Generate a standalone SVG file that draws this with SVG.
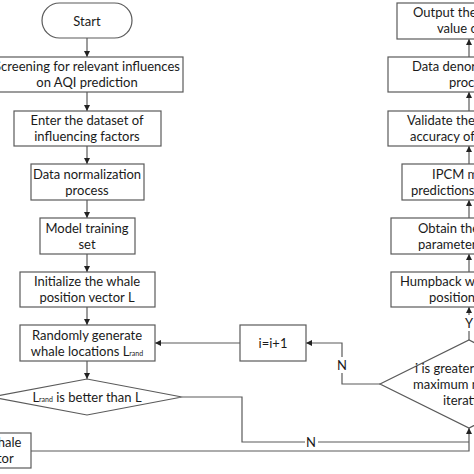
<svg xmlns="http://www.w3.org/2000/svg" width="474" height="474" viewBox="0 0 474 474">
<defs>
<style>
.box{fill:#fff;stroke:#5a5a5a;stroke-width:1.2}
.ln{fill:none;stroke:#5a5a5a;stroke-width:1.2}
.t{font-family:Lato,"Open Sans","Liberation Sans",sans-serif;font-size:13px;fill:#1a1a1a}
.c{text-anchor:middle}
.s{text-anchor:start}
.sub{font-size:7px}
.lab{fill:#fff;stroke:none}
</style>
<marker id="ah" viewBox="0 0 6 6" refX="6" refY="3" markerWidth="6" markerHeight="6" markerUnits="userSpaceOnUse" orient="auto">
<path d="M0,0 L6,3 L0,6 z" fill="#222"/>
</marker>
</defs>
<rect x="0" y="0" width="474" height="474" fill="#fff"/>

<g id="connectors">
<path class="ln" d="M87,38 V57" marker-end="url(#ah)"/>
<path class="ln" d="M87,92 V111" marker-end="url(#ah)"/>
<path class="ln" d="M87,146 V164" marker-end="url(#ah)"/>
<path class="ln" d="M87,200 V218" marker-end="url(#ah)"/>
<path class="ln" d="M87,254 V272" marker-end="url(#ah)"/>
<path class="ln" d="M87,307 V325" marker-end="url(#ah)"/>
<path class="ln" d="M87,361 V379" marker-end="url(#ah)"/>
<path class="ln" d="M240,343 H155" marker-end="url(#ah)"/>
<path class="ln" d="M380,384 H342 V343 H306" marker-end="url(#ah)"/>
<path class="ln" d="M182,397 H242 V442 H469"/>
<path class="ln" d="M31,451 H469 V428" marker-end="url(#ah)"/>
<path class="ln" d="M469,340 V307" marker-end="url(#ah)"/>
<path class="ln" d="M469,272 V254" marker-end="url(#ah)"/>
<path class="ln" d="M469,218 V200" marker-end="url(#ah)"/>
<path class="ln" d="M469,164 V146" marker-end="url(#ah)"/>
<path class="ln" d="M469,111 V92" marker-end="url(#ah)"/>
<path class="ln" d="M469,57 V39" marker-end="url(#ah)"/>
<rect class="lab" x="336" y="357" width="12" height="16"/>
<text class="t c" x="342" y="370">N</text>
<rect class="lab" x="305" y="435" width="13" height="14"/>
<text class="t c" x="311" y="447">N</text>
<rect class="lab" x="463" y="315" width="12" height="16"/>
<text class="t c" x="469" y="328">Y</text>
</g>

<g id="start">
<rect class="box" x="42" y="3" width="90" height="35" rx="17.5"/>
<text class="t c" x="87" y="25.5">Start</text>
</g>
<g id="screening">
<rect class="box" x="-9" y="57" width="192" height="35"/>
<text class="t c" x="87" y="71">Screening for relevant influences</text>
<text class="t c" x="87" y="87">on AQI prediction</text>
</g>
<g id="enter">
<rect class="box" x="14" y="111" width="147" height="35"/>
<text class="t c" x="87" y="125">Enter the dataset of</text>
<text class="t c" x="87" y="141">influencing factors</text>
</g>
<g id="normalize">
<rect class="box" x="31" y="164" width="113" height="36"/>
<text class="t c" x="87" y="178.5">Data normalization</text>
<text class="t c" x="87" y="194.5">process</text>
</g>
<g id="training">
<rect class="box" x="40" y="218" width="95" height="36"/>
<text class="t c" x="87" y="232.5">Model training</text>
<text class="t c" x="87" y="248.5">set</text>
</g>
<g id="init">
<rect class="box" x="20" y="272" width="135" height="35"/>
<text class="t c" x="87" y="286">Initialize the whale</text>
<text class="t c" x="87" y="302">position vector L</text>
</g>
<g id="random">
<rect class="box" x="20" y="325" width="135" height="36"/>
<text class="t c" x="87" y="339.5">Randomly generate</text>
<text class="t c" x="87" y="355.5">whale locations L<tspan class="sub">rand</tspan></text>
</g>
<g id="better">
<polygon class="box" points="-8,397 87,379 182,397 87,415"/>
<text class="t c" x="87" y="401.5">L<tspan class="sub">rand</tspan> is better than L</text>
</g>
<g id="update">
<rect class="box" x="-89" y="433" width="120" height="35"/>
<text class="t c" x="-29" y="447">Update the whale</text>
<text class="t c" x="-29" y="463">position vector</text>
</g>
<g id="increment">
<rect class="box" x="240" y="325" width="66" height="36"/>
<text class="t c" x="273" y="347.5">i=i+1</text>
</g>
<g id="maxiter">
<polygon class="box" points="380,384 469,340 558,384 469,428"/>
<text class="t s" x="415" y="372.5">i is greater than the</text>
<text class="t s" x="413" y="388.5">maximum number of</text>
<text class="t s" x="443" y="404.5">iterations</text>
</g>
<g id="humpback">
<rect class="box" x="391" y="272" width="157" height="35"/>
<text class="t s" x="400" y="286">Humpback whale optimal</text>
<text class="t s" x="429" y="302">position vector</text>
</g>
<g id="obtain">
<rect class="box" x="391" y="218" width="157" height="36"/>
<text class="t s" x="418" y="232.5">Obtain the optimal</text>
<text class="t s" x="418" y="248.5">parameters of IPCM</text>
</g>
<g id="ipcm">
<rect class="box" x="402" y="164" width="135" height="36"/>
<text class="t s" x="432" y="178.5">IPCM model for</text>
<text class="t s" x="411" y="194.5">predictions of AQI</text>
</g>
<g id="validate">
<rect class="box" x="388" y="111" width="163" height="35"/>
<text class="t s" x="407" y="125">Validate the prediction</text>
<text class="t s" x="410" y="141">accuracy of the model</text>
</g>
<g id="denorm">
<rect class="box" x="388" y="57" width="163" height="35"/>
<text class="t s" x="412" y="71">Data denormalization</text>
<text class="t s" x="449" y="87">process</text>
</g>
<g id="output">
<rect class="box" x="397" y="3" width="145" height="36"/>
<text class="t s" x="413" y="17">Output the predicted</text>
<text class="t s" x="437" y="33">value of AQI</text>
</g>
</svg>
